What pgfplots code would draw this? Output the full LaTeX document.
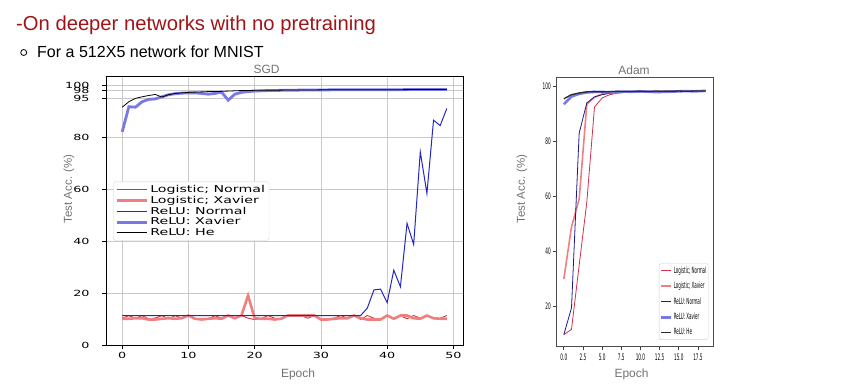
\documentclass[border=0pt]{standalone}
\usepackage{pgfplots}
\pgfplotsset{compat=1.18}
\usepackage{fontspec}
\setmainfont{Liberation Sans}
\newfontfamily\widefont[FakeStretch=1.5]{DejaVu Sans}
\newfontfamily\narrowfont[FakeStretch=0.47]{DejaVu Sans}
\definecolor{titlered}{HTML}{A01418}
\definecolor{lgray}{HTML}{727272}
\definecolor{lognorm}{HTML}{D83030}
\definecolor{logxav}{HTML}{F08080}
\definecolor{relunorm}{HTML}{2626C4}
\definecolor{reluxav}{HTML}{7878E6}
\definecolor{gridc}{HTML}{CACACA}
\definecolor{adlognorm}{HTML}{D0304A}
\definecolor{adrelunorm}{HTML}{1A1A8C}
\definecolor{adhe}{HTML}{2A2A2A}
\begin{document}
\begin{tikzpicture}[x=1bp,y=1bp]
\path[use as bounding box] (0,0) rectangle (853,383);
\coordinate (sgdSW) at (106,38);
\coordinate (adamSW) at (556.7,36.3);
\node[anchor=base west, text=titlered, font=\fontsize{20.3}{24}\selectfont, inner sep=0] at (16,352.5) {-On deeper networks with no pretraining};
\draw[line width=0.8bp] (23.7,330.5) circle (3);
\node[anchor=base west, font=\fontsize{16.1}{19}\selectfont, inner sep=0] at (37,326) {For a 512X5 network for MNIST};

% ---------------- SGD ----------------
\begin{axis}[at={(sgdSW)}, anchor=south west, scale only axis,
  width=357bp, height=269bp,
  xmin=-2.45, xmax=51.45, ymin=0, ymax=103.5,
  xtick={0,10,20,30,40,50}, ytick={0,20,40,60,80,95,98,100},
  grid=major, major grid style={gridc, line width=0.8bp},
  axis line style={black, line width=0.9bp},
  tick style={black, line width=0.7bp}, tick align=outside, major tick length=4bp,
  xtick pos=bottom, ytick pos=left,
  /pgf/number format/assume math mode=true,
  ticklabel style={font=\fontsize{8.5}{10}\widefont},
  yticklabel style={xshift=-9bp},
  legend style={at={(0.0204,0.607)}, anchor=north west, draw=black!18, fill=white,
    rounded corners=1.5bp, inner xsep=2bp, inner ysep=2.6bp,
    font=\fontsize{9.5}{9}\widefont, row sep=0.3bp,
    nodes={inner ysep=0.9bp, inner xsep=2bp, anchor=west},
    /tikz/every even column/.style={column sep=8bp}},
  legend image code/.code={\draw[#1] (0bp,0bp) -- (30bp,0bp);},
  legend cell align=left,
]
\addplot[lognorm, line width=0.9bp] coordinates {
(0,10.3)(1,11.3)(2,10.3)(3,11.3)(4,10.1)(5,10.4)(6,11.3)(7,10.1)(8,11.3)(9,10.3)
(10,11.35)(11,10.1)(12,10.3)(13,10.1)(14,11.3)(15,10.3)(16,11.35)(17,11.35)(18,11.35)(19,10.3)
(20,9.8)(21,10.1)(22,11.35)(23,10.3)(24,10.1)(25,11.35)(26,11.35)(27,11.35)(28,10.3)(29,11.35)
(30,10.1)(31,10.1)(32,10.3)(33,11.35)(34,10.3)(35,11.35)(36,9.8)(37,11.35)(38,10.3)(39,9.8)
(40,11.35)(41,10.3)(42,11.35)(43,10.1)(44,11.35)(45,10.3)(46,11.35)(47,10.1)(48,10.3)(49,11.35)};
\addlegendentry{Logistic; Normal}
\addplot[logxav, line width=2.6bp] coordinates {
(0,10.1)(1,10.1)(2,10.3)(3,10.3)(4,9.8)(5,9.8)(6,10.1)(7,10.3)(8,10.1)(9,10.3)
(10,11.35)(11,10.1)(12,9.8)(13,10.1)(14,10.3)(15,10.1)(16,11.35)(17,10.3)(18,11.35)(19,19)
(20,10.3)(21,10.1)(22,10.1)(23,9.8)(24,10.1)(25,11.35)(26,11.35)(27,11.35)(28,11.35)(29,11.35)
(30,9.8)(31,9.8)(32,10.1)(33,10.3)(34,10.3)(35,11.35)(36,10.3)(37,9.8)(38,9.8)(39,9.8)
(40,11.35)(41,10.1)(42,11.35)(43,11.35)(44,10.3)(45,10.1)(46,11.35)(47,10.3)(48,10.1)(49,10.1)};
\addlegendentry{Logistic; Xavier}
\addplot[relunorm, line width=1bp] coordinates {
(0,11.35)(5,11.35)(10,11.35)(15,11.35)(20,11.35)(25,11.35)(30,11.35)(35,11.35)(36,11.35)
(37,14.2)(38,21.2)(39,21.5)(40,16.3)(41,28.8)(42,22.4)(43,46.8)(44,38.7)(45,74.3)(46,58.3)
(47,86.5)(48,84.4)(49,91)};
\addlegendentry{ReLU: Normal}
\addplot[reluxav, line width=2.8bp] coordinates {
(0,82)(1,91.7)(2,91.5)(3,93.6)(4,94.5)(5,94.7)(6,95.5)(7,96.3)(8,96.7)(9,96.9)
(10,97)(11,97)(12,96.8)(13,96.5)(14,96.8)(15,97.3)(16,94.2)(17,96.5)(18,97.2)(19,97.5)
(20,97.7)(21,97.8)(22,97.9)(23,97.9)(24,98)(25,98)(26,98)(27,98.1)(28,98.1)(29,98.1)
(30,98.1)(32,98.2)(35,98.2)(38,98.2)(41,98.2)(44,98.3)(47,98.3)(49,98.3)};
\addlegendentry{ReLU: Xavier}
\addplot[black, line width=0.8bp] coordinates {
(0,91.5)(1,93.6)(2,94.9)(3,95.5)(4,96)(5,96.4)(6,95.4)(7,96.3)(8,96.8)(9,97)
(10,97.2)(11,97.3)(12,97.4)(13,97.5)(14,97.5)(15,97.6)(16,97.7)(17,97.8)(18,97.9)(19,97.9)
(20,98)(22,98)(25,98.1)(28,98.1)(31,98.2)(35,98.2)(40,98.2)(45,98.3)(49,98.3)};
\addlegendentry{ReLU: He}
\end{axis}

% ---------------- Adam ----------------
\begin{axis}[at={(adamSW)}, anchor=south west, scale only axis,
  width=156.6bp, height=269.4bp,
  xmin=-0.93, xmax=19.5, ymin=5.4, ymax=103.3,
  xtick={0,2.5,5,7.5,10,12.5,15,17.5},
  xticklabels={0.0,2.5,5.0,7.5,10.0,12.5,15.0,17.5},
  ytick={20,40,60,80,100},
  axis line style={black!70, line width=0.8bp},
  tick style={black!75, line width=0.7bp}, tick align=outside, major tick length=3.5bp,
  xtick pos=bottom, ytick pos=left,
  /pgf/number format/assume math mode=true,
  ticklabel style={font=\fontsize{9}{10}\narrowfont},
  yticklabel style={xshift=1bp},
  legend style={at={(0.653,0.3096)}, anchor=north west, draw=black!18, fill=white,
    rounded corners=1.5bp, inner xsep=1bp, inner ysep=2.6bp,
    font=\fontsize{8.6}{9}\narrowfont, row sep=6.3bp,
    nodes={inner ysep=0.6bp, inner xsep=1bp, anchor=west},
    /tikz/every even column/.style={column sep=1bp}},
  legend image code/.code={\draw[#1] (0bp,0bp) -- (10bp,0bp);},
  legend cell align=left,
]
\addplot[adlognorm, line width=0.8bp] coordinates {
(0,9.8)(1,11.7)(2,35)(3,58)(4,92.5)(5,95.8)(6,97)(7,97.5)(8,97.8)(9,98)
(10,98)(11,98.1)(12,98.2)(13,98.2)(14,98.2)(15,98.3)(16,98.3)(17,98.3)(18,98.4)(18.5,98.4)};
\addlegendentry{Logistic; Normal}
\addplot[logxav, line width=1.6bp] coordinates {
(0,30)(1,49)(2,59)(3,93.5)(4,96)(5,97.2)(6,97.6)(7,97.8)(8,98)(9,98)
(10,98.1)(11,98.1)(12,98.2)(13,98.2)(14,98.3)(15,98.2)(16,98.3)(17,98.3)(18,98.3)(18.5,98.4)};
\addlegendentry{Logistic; Xavier}
\addplot[adrelunorm, line width=0.8bp] coordinates {
(0,9.8)(1,19.5)(2,83)(3,94)(4,96.2)(5,97)(6,97.5)(7,97.8)(8,98)(9,98)
(10,98.1)(11,98.2)(12,98.1)(13,98.2)(14,98.2)(15,98.2)(16,98.3)(17,98.3)(18,98.3)(18.5,98.3)};
\addlegendentry{ReLU: Normal}
\addplot[reluxav, line width=2.6bp] coordinates {
(0,93.5)(1,96.3)(2,97.3)(3,97.8)(4,98)(5,98)(6,97.8)(7,98)(8,98.1)(9,98)
(10,98.2)(11,98.1)(12,97.9)(13,98)(14,98.1)(15,98.2)(16,98.3)(17,98.2)(18,98.3)(18.5,98.4)};
\addlegendentry{ReLU: Xavier}
\addplot[adhe, line width=1.3bp] coordinates {
(0,95.5)(1,97)(2,97.6)(3,98)(4,98.1)(5,98)(6,98.1)(7,98.2)(8,98.1)(9,98.2)
(10,98.2)(11,98.1)(12,98.3)(13,98.2)(14,98.2)(15,98.3)(16,98.2)(17,98.3)(18,98.3)(18.5,98.3)};
\addlegendentry{ReLU: He}
\end{axis}

% axis titles and labels
\node[text=lgray, font=\fontsize{12}{14}\selectfont] at (266.5,314) {SGD};
\node[text=lgray, font=\fontsize{12}{14}\selectfont] at (634,313) {Adam};
\node[text=lgray, font=\fontsize{12}{14}\selectfont, anchor=base] at (298,6) {Epoch};
\node[text=lgray, font=\fontsize{12}{14}\selectfont, anchor=base] at (631.5,6) {Epoch};
\node[text=lgray, font=\fontsize{11.5}{14}\selectfont, rotate=90] at (69,194) {Test Acc. (\%)};
\node[text=lgray, font=\fontsize{11.5}{14}\selectfont, rotate=90] at (522,194) {Test Acc. (\%)};
\end{tikzpicture}
\end{document}
